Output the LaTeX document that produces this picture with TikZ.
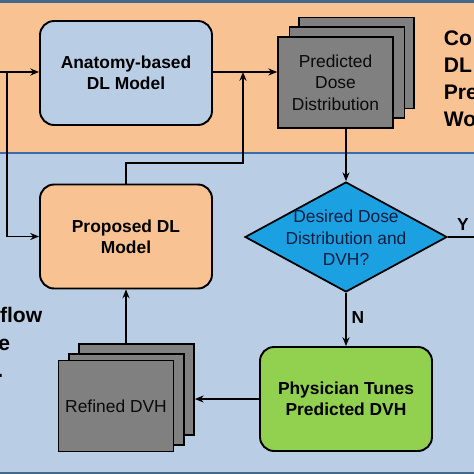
\documentclass[tikz,border=0pt]{standalone}
\usepackage{fontspec}
\setmainfont{Liberation Sans}
\usetikzlibrary{arrows.meta,shapes.geometric}
\definecolor{peach}{RGB}{248,194,146}
\definecolor{paleblue}{RGB}{185,205,229}
\definecolor{bandline}{RGB}{58,110,170}
\definecolor{bar}{RGB}{65,105,140}
\definecolor{sky}{RGB}{27,161,226}
\definecolor{leaf}{RGB}{146,208,80}
\definecolor{navy}{RGB}{15,30,65}
\definecolor{ink}{RGB}{10,10,10}
\begin{document}
\fontsize{9.9}{12.2}\selectfont
\begin{tikzpicture}[x=0.02cm,y=-0.02cm,>={Stealth[length=5pt,width=4pt]},line width=0.9pt,
 box/.style={draw,line width=1.1pt,rounded corners=8pt,align=center,font=\bfseries,minimum width=3.44cm,minimum height=2.08cm,inner sep=2pt},
 sheet/.style={draw,line width=1pt,fill=gray,text=ink,align=center,minimum width=2.3cm,minimum height=1.82cm,inner sep=0pt},
 dec/.style={diamond,draw,line width=1pt,fill=sky,minimum width=4.04cm,minimum height=2.2cm,inner sep=0pt},
 lbl/.style={font=\bfseries\fontsize{12}{14}\selectfont,anchor=base west,inner sep=0pt}]
\useasboundingbox (0,0) rectangle (474,474);
\clip (0,0) rectangle (474,474);
% bands
\fill[peach] (0,3) rectangle (474,153);
\fill[paleblue] (0,153) rectangle (474,471.5);
\fill[bar] (0,0) rectangle (474,3);
\fill[bar] (0,471.5) rectangle (474,474);
\draw[bandline,line width=1pt] (0,153) -- (474,153);
% side titles
\node[lbl] (c1) at (443,45) {Co}; \node[lbl] (c2) at (443,72) {DL};
\node[lbl] (c3) at (443,99) {Pre}; \node[lbl] (c4) at (443,126) {Wo};
\node[lbl,anchor=base east] (w1) at (43,322) {flow};
\node[lbl,anchor=base east] (w2) at (11,350) {e};
\node[lbl,anchor=base east] (w3) at (4,377) {.};
% boxes
\node[box,fill=paleblue] (anat) at (126,73) {Anatomy-based\\DL Model};
\node[box,fill=peach] (prop) at (126,236.5) {Proposed DL\\Model};
\node[box,fill=leaf] (phys) at (346,399) {Physician Tunes\\Predicted DVH};
\node[sheet] (pb) at (356.5,63) {}; \node[sheet] (pm) at (347,72.5) {};
\node[sheet] (pf) at (335.5,82.5) {Predicted\\Dose\\Distribution};
\node[sheet] (rb) at (136.5,389.5) {}; \node[sheet] (rm) at (126.5,399.5) {};
\node[sheet] (rf) at (116,406) {Refined DVH};
\node[dec] (dec) at (346,237) {};
\node[text=navy,align=center] (q) at (346,238) {Desired Dose\\Distribution and\\DVH?};
\node[font=\bfseries] (y) at (463,225) {Y};
\node[font=\bfseries] (n) at (358,318) {N};
% connectors
\coordinate (in) at (0,72); \coordinate (j) at (7,72);
\coordinate (k) at (243,72); \coordinate (yes) at (474,237);
\draw[->] (in) -- (anat.west |- in);
\draw[->] (j) |- (prop.west);
\draw[->] (anat.east |- in) -- (pf.west |- in);
\draw[->] (prop.north) |- (k |- 0,163) -- (k);
\draw[->] (dec.north |- pf.south) -- (dec.north);
\draw (dec.east) -- (yes);
\draw[->] (dec.south) -- (phys.north);
\draw[->] (phys.west) -- (rb.east |- phys.west);
\draw[->] (prop.south |- rb.north) -- (prop.south);
\end{tikzpicture}
\end{document}
